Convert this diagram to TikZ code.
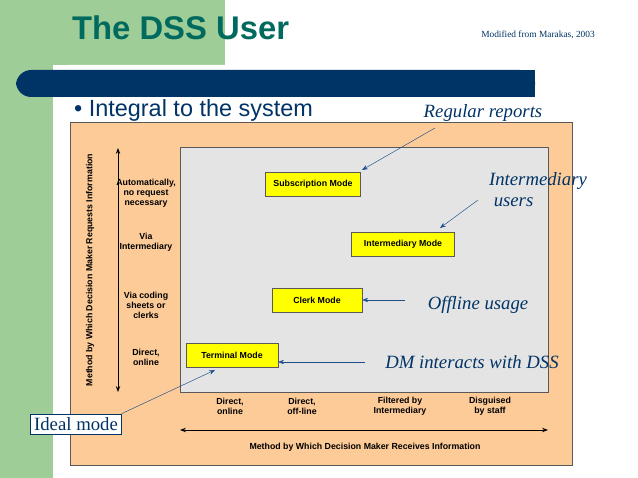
\documentclass[tikz,border=0pt]{standalone}
\usepackage{fontspec}
\setmainfont{Liberation Serif}
\newfontfamily\sans{Liberation Sans}
\usetikzlibrary{arrows.meta}
\definecolor{grn}{HTML}{9FCD97}
\definecolor{navy}{HTML}{003366}
\definecolor{teal2}{HTML}{006A5E}
\definecolor{org}{HTML}{FDCB98}
\definecolor{gry}{HTML}{E4E4E4}
\definecolor{ylw}{HTML}{FFFF00}
\definecolor{arr}{HTML}{1F4E8C}
\begin{document}
\begin{tikzpicture}[x=0.03cm,y=-0.03cm,
 mode/.style={draw=gray!70!black,fill=ylw,font=\sans\bfseries\fontsize{7.5}{9}\selectfont,minimum height=0.72cm,inner sep=2pt},
 ax/.style={font=\sans\bfseries\fontsize{7.5}{8.6}\selectfont,align=center},
 note/.style={font=\itshape\fontsize{16}{18}\selectfont,text=navy,align=left},
 pt/.style={draw=arr,-{Stealth[length=5pt]},thin}]
\useasboundingbox (0,0) rectangle (638,478);
\fill[white] (0,0) rectangle (638,478);
\fill[grn] (0,0) rectangle (53,478);
\fill[grn] (0,0) rectangle (225,65);
\fill[white,rounded corners=8pt] (60,65) rectangle (638,478);
\fill[navy,rounded corners=13pt] (16,70) rectangle (535,97);
\fill[navy] (300,70) rectangle (535,97);
\node[font=\sans\bfseries\fontsize{28}{32}\selectfont,text=teal2,anchor=west] (title) at (68,28) {The DSS User};
\node[font=\fontsize{8}{10}\selectfont,text=navy] (src) at (538,35) {Modified from Marakas, 2003};
\node[font=\sans\fontsize{20}{24}\selectfont,text=navy,anchor=west] (bul) at (70,110) {\textbullet\ Integral to the system};
\draw[gray!70!black,fill=org] (70,122) rectangle (572,465);
\draw[gray!70!black,fill=gry] (180,147) rectangle (548,392);
\coordinate (vt) at (118,148); \coordinate (vb) at (118,392);
\draw[{Stealth[length=5pt]}-{Stealth[length=5pt]},thick] (vt) -- (vb);
\node[ax,rotate=90] (vlab) at (90,270) {Method by Which Decision Maker Requests Information};
\node[ax] (l1) at (146,193) {Automatically,\\no request\\necessary};
\node[ax] (l2) at (146,242) {Via\\Intermediary};
\node[ax] (l3) at (146,305) {Via coding\\sheets or\\clerks};
\node[ax] (l4) at (146,357) {Direct,\\online};
\node[mode,minimum width=2.85cm] (sub) at (313,184) {Subscription Mode};
\node[mode,minimum width=3.1cm] (int) at (403,244) {Intermediary Mode};
\node[mode,minimum width=2.7cm] (clk) at (317,300) {Clerk Mode};
\node[mode,minimum width=2.75cm] (ter) at (232,355) {Terminal Mode};
\node[ax] (b1) at (230,406) {Direct,\\online};
\node[ax] (b2) at (302,406) {Direct,\\off-line};
\node[ax] (b3) at (400,406) {Filtered by\\Intermediary};
\node[ax] (b4) at (490,406) {Disguised\\by staff};
\coordinate (hl) at (180,430); \coordinate (hr) at (548,430);
\draw[{Stealth[length=5pt]}-{Stealth[length=5pt]},thick] (hl) -- (hr);
\node[ax] (hlab) at (365,447) {Method by Which Decision Maker Receives Information};
\node[note] (rr) at (483,113) {Regular reports};
\node[note] (iu) at (538,190) {Intermediary\\\ users};
\node[note] (off) at (478,305) {Offline usage};
\node[note] (dm) at (472,362) {DM interacts with DSS};
\node[font=\fontsize{16}{18}\selectfont,draw=navy,fill=white,text=navy,inner sep=3pt] (ideal) at (76,424) {Ideal mode};
\coordinate (a1) at (435,128); \coordinate (a1e) at (362,170);
\draw[pt] (a1) -- (a1e);
\coordinate (a2) at (478,200); \coordinate (a2e) at (440,228);
\draw[pt] (a2) -- (a2e);
\coordinate (a3) at (405,300);
\draw[pt] (a3) -- (clk.east);
\coordinate (a4) at (365,362);
\draw[pt] (a4) -- (ter.east |- a4);
\coordinate (a5e) at (215,370);
\draw[pt] (ideal.north east) -- (a5e);
\end{tikzpicture}
\end{document}
